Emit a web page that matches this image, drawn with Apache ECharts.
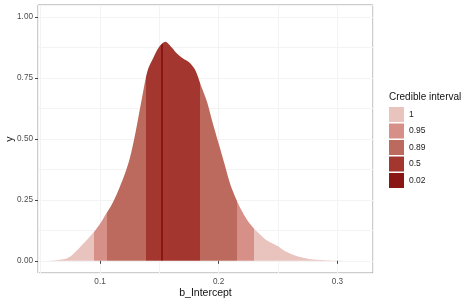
<!DOCTYPE html>
<html>
<head>
<meta charset="utf-8">
<script src="https://cdn.jsdelivr.net/npm/echarts@6/dist/echarts.min.js"></script>
<style>
  html, body { margin: 0; padding: 0; background: #fff; }
  #chart { width: 474px; height: 304px; }
</style>
</head>
<body>
<div id="chart"></div>
<script>
// posterior density of b_Intercept
const densX = [0.055, 0.060, 0.065, 0.070, 0.075, 0.080, 0.085, 0.090, 0.095, 0.100,
  0.105, 0.110, 0.115, 0.120, 0.125, 0.130, 0.135, 0.140, 0.145, 0.150,
  0.155, 0.160, 0.165, 0.170, 0.175, 0.180, 0.185, 0.190, 0.195, 0.200,
  0.205, 0.210, 0.215, 0.220, 0.225, 0.230, 0.235, 0.240, 0.245, 0.250,
  0.255, 0.260, 0.265, 0.270, 0.280, 0.290, 0.300, 0.310, 0.316];
const densY = [0.000, 0.001, 0.003, 0.007, 0.018, 0.040, 0.066, 0.092, 0.119, 0.152,
  0.192, 0.232, 0.285, 0.345, 0.420, 0.530, 0.660, 0.780, 0.835, 0.880,
  0.899, 0.878, 0.850, 0.830, 0.815, 0.785, 0.720, 0.655, 0.565, 0.480,
  0.395, 0.310, 0.250, 0.200, 0.160, 0.131, 0.108, 0.085, 0.072, 0.060,
  0.042, 0.030, 0.021, 0.014, 0.005, 0.002, 0.001, 0.000, 0.000];

// credible intervals (nested), widest first
const levels = ["1", "0.95", "0.89", "0.5", "0.02"];
const lower = [0.055, 0.0949, 0.1062, 0.1386, 0.1515];
const upper = [0.316, 0.2300, 0.2153, 0.1844, 0.1527];
const colors = ["#e9c3be", "#d69088", "#bd6a5e", "#a3372f", "#8a1515"];

const xTicks = [0.1, 0.2, 0.3];
const yTicks = [0.00, 0.25, 0.50, 0.75, 1.00];

// piecewise colouring along x: innermost interval wins
const edges = [...new Set([...lower, ...upper])].sort((a, b) => a - b);
const pieces = [];
pieces.push({ lt: edges[0], color: colors[0] });
for (let i = 0; i < edges.length - 1; i++) {
  const mid = (edges[i] + edges[i + 1]) / 2;
  let k = 0;
  for (let j = 0; j < levels.length; j++) {
    if (mid >= lower[j] && mid <= upper[j]) k = j;
  }
  pieces.push({ gte: edges[i], lt: edges[i + 1], color: colors[k] });
}
pieces.push({ gte: edges[edges.length - 1], color: colors[0] });

const font = "Liberation Sans, Arial, sans-serif";

const chart = echarts.init(document.getElementById("chart"));
chart.setOption({
  animation: false,
  backgroundColor: "#fff",
  textStyle: { fontFamily: font },
  title: {
    text: "Credible interval",
    left: 389,
    top: 92,
    padding: 0,
    textStyle: { fontSize: 10, fontWeight: "normal", color: "#111", fontFamily: font },
  },
  legend: {
    orient: "vertical",
    left: 389,
    top: 107,
    padding: 0,
    itemWidth: 15,
    itemHeight: 15,
    itemGap: 1.5,
    icon: "rect",
    textStyle: { fontSize: 8.5, color: "#222", fontFamily: font },
    data: levels,
  },
  grid: {
    left: 38,
    right: 101,
    top: 5,
    bottom: 31,
    outerBoundsMode: "none",
    containLabel: false,
    show: true,
    borderColor: "#9a9a9a",
    borderWidth: 1,
    backgroundColor: "#fff",
  },
  visualMap: {
    type: "piecewise",
    show: false,
    dimension: 0,
    seriesIndex: 0,
    pieces: pieces,
  },
  xAxis: [
    {
      type: "value",
      min: 0.0477,
      max: 0.330,
      minInterval: 0.1,
      maxInterval: 0.1,
      name: "b_Intercept",
      nameLocation: "middle",
      nameGap: 15,
      nameMoveOverlap: false,
      nameTextStyle: { fontSize: 10.5, color: "#111", fontFamily: font },
      axisLine: { show: false },
      axisTick: { show: true, length: 3, customValues: xTicks, lineStyle: { color: "#444" } },
      axisLabel: {
        margin: 5,
        fontSize: 8.2,
        color: "#4d4d4d",
        customValues: xTicks,
        formatter: (v) => v.toFixed(1),
      },
      splitLine: { show: true, lineStyle: { color: "#e8e8e8", width: 1 } },
    },
    {
      type: "value",
      min: 0.0477,
      max: 0.330,
      minInterval: 0.05,
      maxInterval: 0.05,
      position: "bottom",
      axisLine: { show: false },
      axisTick: { show: false },
      axisLabel: { show: false },
      splitLine: { show: true, lineStyle: { color: "#f3f3f3", width: 1 } },
    },
  ],
  yAxis: [
    {
      type: "value",
      min: -0.05,
      max: 1.05,
      minInterval: 0.25,
      maxInterval: 0.25,
      name: "y",
      nameLocation: "middle",
      nameGap: 22,
      nameRotate: 90,
      nameMoveOverlap: false,
      nameTextStyle: { fontSize: 10.5, color: "#111", fontFamily: font },
      axisLine: { show: false },
      axisTick: { show: true, length: 3, customValues: yTicks, lineStyle: { color: "#444" } },
      axisLabel: {
        margin: 5,
        fontSize: 8.2,
        color: "#4d4d4d",
        customValues: yTicks,
        formatter: (v) => v.toFixed(2),
      },
      splitLine: { show: true, lineStyle: { color: "#e8e8e8", width: 1 } },
    },
    {
      type: "value",
      min: -0.05,
      max: 1.05,
      minInterval: 0.125,
      maxInterval: 0.125,
      position: "left",
      axisLine: { show: false },
      axisTick: { show: false },
      axisLabel: { show: false },
      splitLine: { show: true, lineStyle: { color: "#f3f3f3", width: 1 } },
    },
  ],
  series: [
    {
      name: "density",
      type: "line",
      smooth: 0.3,
      showSymbol: false,
      silent: true,
      xAxisIndex: 0,
      yAxisIndex: 0,
      lineStyle: { width: 0 },
      areaStyle: { opacity: 1 },
      data: densX.map((x, i) => [x, densY[i]]),
    },
    ...levels.map((lv, i) => ({
      name: lv,
      type: "line",
      data: [],
      itemStyle: { color: colors[i] },
      lineStyle: { color: colors[i] },
    })),
  ],
});
</script>
</body>
</html>
